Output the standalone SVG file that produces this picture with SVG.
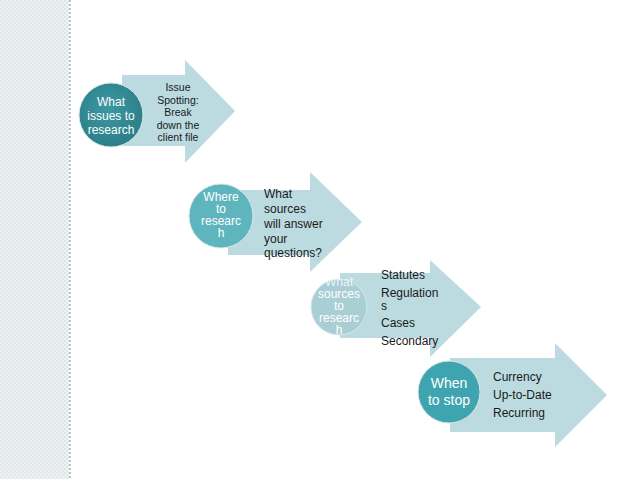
<svg xmlns="http://www.w3.org/2000/svg" width="638" height="479" viewBox="0 0 638 479">
<defs>
<pattern id="chk" width="4" height="4" patternUnits="userSpaceOnUse"><rect width="4" height="4" fill="#eef1f3"/><rect width="2" height="2" fill="#e1e6e9"/><rect x="2" y="2" width="2" height="2" fill="#e1e6e9"/></pattern>
<radialGradient id="g1" cx="0.45" cy="0.4" r="0.6"><stop offset="0" stop-color="#3c98a2"/><stop offset="1" stop-color="#2b7f88"/></radialGradient>
</defs>
<style>
.arr{fill:#bcdbe0}
.c{stroke:#d8e6e8;stroke-width:1}
.t{font-family:"Liberation Sans",Arial,sans-serif;font-size:12px;fill:#1a1a1a}
.s{font-size:10.5px}
.x{font-size:10px}
.w{font-family:"Liberation Sans",Arial,sans-serif;font-size:12px;fill:#ffffff;text-anchor:middle}
</style>
<rect width="638" height="479" fill="#fff"/>
<rect width="69" height="479" fill="url(#chk)"/>
<line x1="70" y1="0" x2="70" y2="479" stroke="#b9bfc3" stroke-width="2" stroke-dasharray="2,2"/>
<g id="connectors"></g>
<g id="n1">
<polygon class="arr" points="122,75 185,75 185,60 235,111 185,163 185,146 122,146"/>
<circle class="c" cx="111" cy="115" r="32" fill="url(#g1)"/>
<text class="w" x="111" y="106">What</text><text class="w" x="111" y="120">issues to</text><text class="w" x="111" y="134">research</text>
<text class="t s" text-anchor="middle"><tspan x="178" y="91">Issue</tspan><tspan x="178" y="104">Spotting:</tspan><tspan x="178" y="116">Break</tspan><tspan x="178" y="129">down the</tspan><tspan x="178" y="141">client file</tspan></text>
</g>
<g id="n2">
<polygon class="arr" points="228,190 310,190 310,172 362,222 310,272 310,255 228,255"/>
<circle class="c" cx="221" cy="216" r="32" fill="#5fb5be"/>
<text class="w x" x="221" y="201">Where</text><text class="w x" x="221" y="213">to</text><text class="w x" x="221" y="225">researc</text><text class="w x" x="221" y="237">h</text>
<text class="t"><tspan x="264" y="198">What</tspan><tspan x="264" y="213">sources</tspan><tspan x="264" y="228">will answer</tspan><tspan x="264" y="243">your</tspan><tspan x="264" y="257">questions?</tspan></text>
</g>
<g id="n3">
<polygon class="arr" points="340,273 430,273 430,260 481,307 430,357 430,338 340,338"/>
<circle class="c" cx="339" cy="307" r="28" fill="#a9cfd4"/>
<text class="w x" x="339" y="286" fill-opacity="0.8">What</text><text class="w x" x="339" y="298">sources</text><text class="w x" x="339" y="310">to</text><text class="w x" x="339" y="322">researc</text><text class="w x" x="339" y="334">h</text>
<text class="t"><tspan x="381" y="279">Statutes</tspan><tspan x="381" y="297">Regulation</tspan><tspan x="381" y="310">s</tspan><tspan x="381" y="327">Cases</tspan><tspan x="381" y="345">Secondary</tspan></text>
</g>
<g id="n4">
<polygon class="arr" points="450,358 555,358 555,343 607,395 555,447 555,432 450,432"/>
<circle class="c" cx="449" cy="392" r="31" fill="#3ea5b0"/>
<text class="w" x="449" y="388" style="font-size:14px">When</text><text class="w" x="449" y="405" style="font-size:14px">to stop</text>
<text class="t"><tspan x="493" y="381">Currency</tspan><tspan x="493" y="399">Up-to-Date</tspan><tspan x="493" y="417">Recurring</tspan></text>
</g>
</svg>
